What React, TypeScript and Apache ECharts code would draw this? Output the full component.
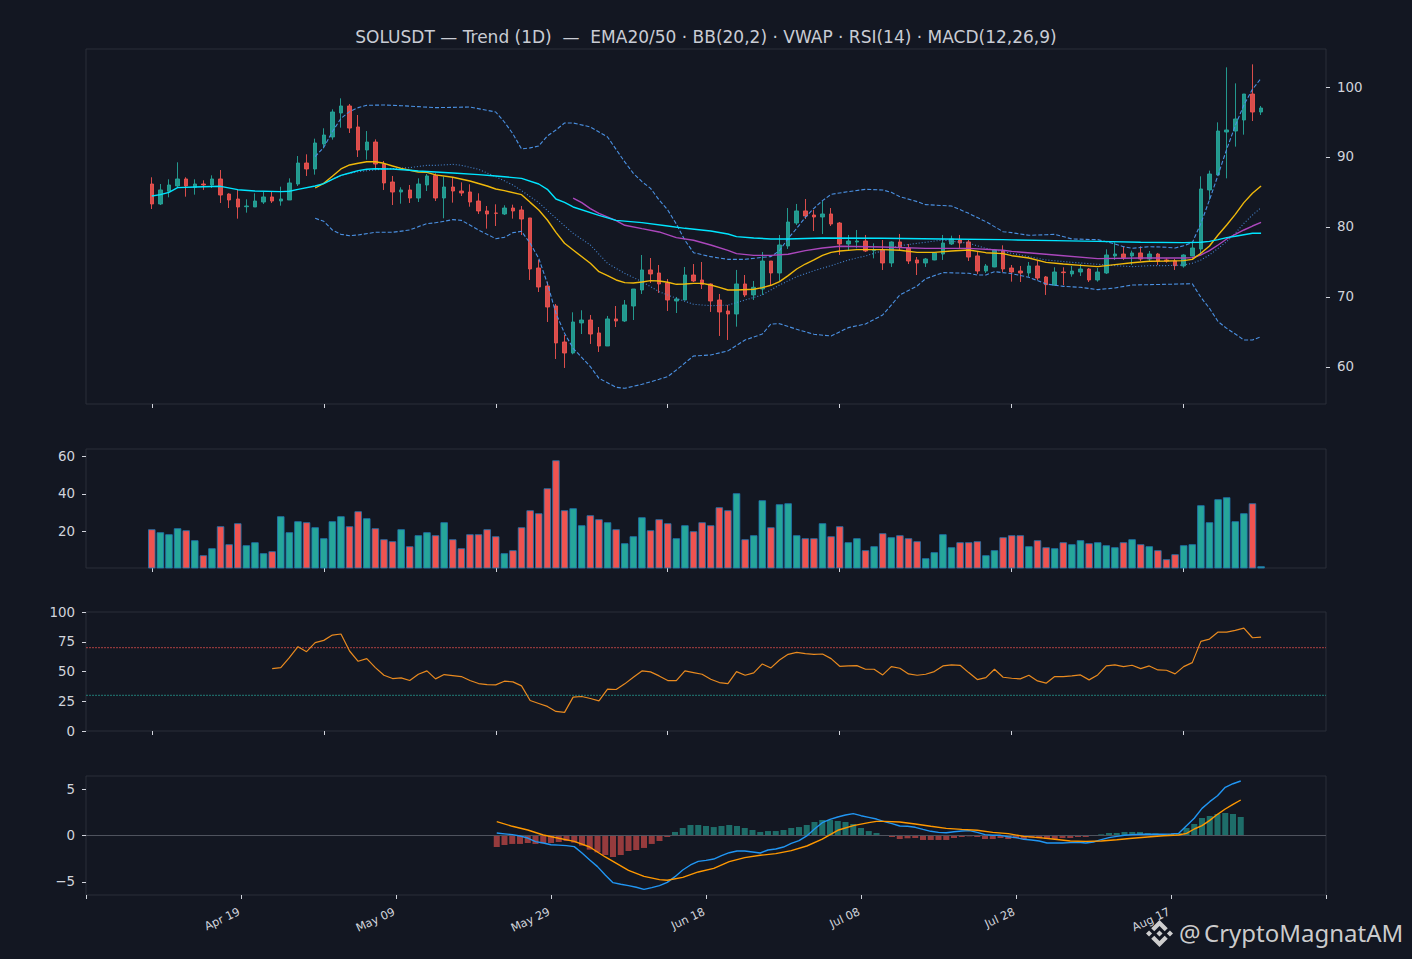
import React, { useEffect, useRef } from "react";
import * as echarts from "echarts";

// [open, close, low, high] per day, index 0 = Apr 19
const ohlc: number[][] = [
  [86.14,83.29,82.57,87.1],[83.29,85.29,83.14,86.14],[85.1,86,84.24,86.81],[85.86,86.86,85.67,89.24],[86.86,85.86,84.33,87.1],
  [85.67,86.14,84.62,86.81],[86.14,86,85.29,86.67],[86,86.86,85.57,87.38],[86.86,84.57,83.43,88.14],[84.71,83.86,82.71,84.81],
  [84,82.86,81.19,85.29],[82.9,83,82.05,83.95],[82.86,83.71,82.86,84.81],[83.57,84.29,83.29,85],[84.29,83.71,83.43,85],
  [83.71,84,83.05,85.76],[83.86,86.29,83.86,86.95],[86.14,89.14,85.86,90.14],[89.14,88.29,87.29,90.38],[88.29,92,87.48,92.62],
  [91.86,93.14,91.24,94.1],[92.86,96.43,92.48,96.81],[96.29,97.29,94.19,98.38],[97.29,94.14,93.43,97.57],[94.29,91,90,96],
  [91,92.14,89.62,93.71],[92.14,89,88.38,92.52],[89,86.29,85.29,89.43],[86.43,85,83.14,87.29],[85,85.29,83.33,85.67],
  [85.29,84.14,83.43,86],[84.14,86.14,83.57,86.95],[86,87.29,85.14,87.57],[87.35,84.14,83.71,87.67],[84.14,85.71,81.24,87.19],
  [85.71,85.14,83.48,87.1],[85.14,84.86,84.43,86.38],[85,83.57,82.9,86.1],[83.71,82.29,81.86,84.81],[82.29,81.86,79.76,83],
  [82,81.95,80.14,83.24],[81.86,82.71,81.71,83.1],[82.71,82.29,81.19,83.19],[82.43,81.14,78.86,83],[81.29,74,72.43,81.29],
  [74.14,71.43,70.71,75.29],[71.57,68.57,66.43,72.19],[68.71,63.43,61.14,69],[63.57,62,59.86,64.57],[62,66.43,61.81,67.81],
  [66.29,66.71,64.71,68.1],[66.71,64.71,63.29,67.43],[64.86,63,62.14,65.71],[63,66.86,63,67.29],[66.86,66.57,65.71,68.71],
  [66.57,68.86,66.43,69.57],[68.71,71.14,66.71,71.14],[71,73.86,70.43,76],[73.86,73.29,72,75.57],[73.43,71.86,70.57,74.57],
  [72,69.57,68,72.57],[69.43,69.71,67.71,70],[69.57,73.14,69.57,74.29],[73.14,72.29,72.14,74.71],[72.43,71.81,71.14,75],
  [71.86,69.43,67.86,71.95],[69.57,67.86,64.43,70.43],[68,67.57,63.86,68.86],[67.57,71.86,65.76,73.86],[71.86,70.29,70,73.14],
  [70.29,71.38,69.57,72.29],[71.14,75.14,70.29,76.43],[75.14,73.43,71.71,75.14],[73.43,77.43,72.29,78.86],[77.29,80.71,76.86,82.71],
  [80.57,82.29,80.29,83.29],[82.29,81.57,81.14,84],[81.71,81.43,79.43,82.43],[81.43,81.86,79,83.71],[81.86,80.43,80.14,82.71],
  [80.57,77.57,76,80.71],[77.57,78,76.57,78.86],[77.86,78,76.95,79.57],[78,76.57,76.43,78.86],[76.62,76.76,75.52,77.67],
  [76.71,74.86,73.86,78.14],[74.86,77.86,74.29,77.95],[77.86,77.14,76.71,79],[77,75.14,74.71,77.57],[75.29,74.86,73.14,75.71],
  [74.86,75.43,74.29,75.57],[75.29,76.29,75.25,76.29],[76.14,77.71,75.29,78.86],[77.57,78.29,77.43,78.76],[78.14,77.71,76.86,78.86],
  [77.86,75.71,75.14,78.14],[75.86,73.71,73.29,76.43],[73.71,74.43,73.43,74.71],[74.29,76.71,74.25,76.86],[76.52,74,73.57,77.38],
  [74.14,73.57,72.19,74.57],[73.71,73.43,72.14,74.43],[73.43,74.43,72.9,75],[74.43,72.71,72.43,75.14],[72.86,71.76,70.29,73],
  [71.67,73.57,71.62,74.24],[73.57,73.48,71.71,74.24],[73.29,73.71,72.9,74.43],[73.57,74,73,74.71],[74,72.43,72.14,74.14],
  [72.43,73.57,72.19,74.14],[73.43,76,73.29,76.81],[75.86,76.14,75.29,77.81],[76.14,75.62,75.29,77.14],[75.86,76.29,74.57,76.62],
  [76.29,75.43,75.14,77.24],[75.43,76.14,75,76.57],[76.14,75.14,74.57,76.29],[75.29,75.14,74.9,75.52],[75.14,74.48,73.86,75.43],
  [74.43,76,74.19,76.1],[75.86,77,75.82,77.86],[76.86,85.43,76.24,87.24],[85.29,87.57,83.86,88.05],[87.43,93.71,87.43,94.95],
  [93.57,93.86,86.95,102.81],[93.71,95.43,91.48,100.52],[95.29,99,93.19,99],[99,96.43,95.14,103.24],[96.43,97,96,97.29],
];

const volumes: number[] = [
  21.16,19.56,18.49,21.69,20.62,15.29,7.29,11.02,22.76,13.16,24.36,12.62,14.22,8.36,9.42,28.09,19.56,25.42,24.89,22.22,
  16.36,25.42,28.09,22.76,30.76,27.02,21.69,15.82,14.76,21.16,12.09,17.96,19.56,17.96,24.89,15.82,11.02,18.49,18.49,21.16,
  17.42,8.36,9.96,22.22,31.29,29.69,43.02,57.96,31.29,32.36,23.29,28.62,26.49,24.89,21.16,13.69,17.42,27.56,20.62,26.49,
  24.36,16.36,23.29,20.09,24.89,23.29,32.89,31.29,40.36,15.82,17.96,36.62,22.22,34.49,35.02,17.96,16.36,16.36,24.36,17.42,
  22.76,14.22,16.36,9.96,12.09,19.02,16.89,17.96,16.36,14.76,5.69,8.89,18.49,11.56,14.22,14.22,14.76,7.29,9.96,16.89,
  17.96,17.96,12.09,15.29,11.56,11.02,14.22,13.16,15.29,13.69,14.22,12.62,11.56,14.22,15.82,13.16,12.09,9.96,5.16,7.82,
  12.62,13.16,33.96,24.89,37.16,38.22,25.42,29.69,35.02,1.42,
];

const vwap: number[][] = [
  [0,84.43],[1,84.62],[2,84.95],[3,85.62],[5,85.71],[8,85.81],[10,85.33],[12,85.14],[15,85.05],[16,85.1],[17,85.38],[19,85.86],[20,86.19],
  [21,86.81],[22,87.38],[23,87.71],[24,88.05],[25,88.24],[26,88.33],[28,88.29],[30,88.1],[31,88],[33,87.86],[35,87.71],[38,87.48],[40,87.29],
  [43,86.95],[45,86.14],[46,85.38],[47,84],[48,83.52],[49,82.86],[52,81.67],[54,80.95],[57,80.62],[60,80.14],[62,79.81],[65,79.43],[67,79],
  [68,78.62],[70,78.43],[72,78.29],[74,78.29],[78,78.43],[85,78.4],[92,78.29],[99,78.19],[100,78.16],[105,78.05],[110,77.95],[115,77.81],
  [120,77.76],[122,77.81],[123,77.95],[124,78.19],[125,78.48],[126,78.67],[127,78.9],[128,79.1],[129,79.1],
];

const ema20: number[][] = [
  [19,85.57],[20,86.24],[21,87.24],[22,88.29],[23,88.86],[24,89.1],[25,89.33],[26,89.33],[27,89.1],[28,88.71],[29,88.38],[30,88.1],[31,87.86],
  [32,87.81],[33,87.45],[35,87.1],[37,86.57],[39,85.86],[40,85.43],[41,85.19],[43,84.62],[44,83.52],[45,82.43],[46,81],[47,79.24],[48,77.67],
  [49,76.71],[51,74.81],[52,73.62],[53,73.05],[54,72.43],[55,72.05],[56,72],[57,72.14],[58,72.33],[59,72.29],[60,72.1],[61,71.81],[62,71.86],
  [63,71.95],[64,71.95],[65,71.71],[66,71.38],[67,71],[68,71],[70,71.1],[71,71.33],[72,71.67],[73,72.19],[74,73.05],[75,74],[76,74.71],[77,75.29],
  [78,75.95],[79,76.38],[80,76.57],[82,76.76],[85,76.76],[87,76.67],[89,76.38],[91,76.38],[93,76.57],[95,76.71],[97,76.33],[99,76.19],[100,75.9],
  [102,75.57],[104,74.95],[106,74.71],[108,74.52],[110,74.33],[112,74.62],[114,74.9],[116,75.1],[118,75.14],[120,75.19],[121,75.38],[122,76.24],
  [123,77.29],[124,78.86],[125,80.29],[126,81.81],[127,83.48],[128,84.81],[129,85.86],
];

const ema50: number[][] = [
  [49,84.14],[50,83.48],[51,82.62],[52,81.95],[54,80.9],[55,80.24],[57,79.76],[59,79.29],[61,78.48],[63,78.1],[65,77.43],[67,76.65],[68,76.19],
  [70,75.95],[72,75.95],[74,76.1],[76,76.62],[78,77],[80,77.24],[85,77.14],[90,76.95],[95,76.95],[99,76.67],[100,76.52],[105,76],[110,75.48],
  [115,75.57],[120,75.57],[121,75.62],[122,76],[123,76.62],[124,77.43],[125,78.29],[126,78.95],[127,79.57],[128,80.14],[129,80.67],
];

const bbUpper: number[][] = [
  [19,90.05],[20,91.38],[21,93.62],[22,95.52],[23,96.48],[24,97.05],[25,97.38],[27,97.43],[29,97.33],[31,97.19],[33,97.05],[37,97.14],[40,96.43],
  [41,95],[42,93.3],[43,91.14],[44,91.3],[45,91.57],[46,93],[47,93.86],[48,94.86],[49,94.86],[51,94.3],[53,92.86],[55,89.3],[56,87.67],[57,86.48],
  [58,85.52],[59,83.86],[60,82.43],[61,80.43],[62,78.1],[63,76.33],[65,75.76],[67,75.38],[69,75.38],[71,75.67],[72,75.76],[73,76.62],[74,78.38],
  [75,79.81],[76,81.38],[77,82.67],[78,83.76],[79,84.67],[81,85.05],[83,85.38],[85,85.29],[86,84.95],[87,84.33],[89,83.62],[90,83.19],[93,83],
  [95,81.95],[97,80.76],[99,79.33],[100,79.19],[102,78.81],[104,78.9],[105,78.95],[107,78.29],[110,78.19],[111,77.9],[112,77.57],[113,77.19],
  [114,76.95],[116,77.19],[118,77.1],[119,77],[120,77.33],[121,77.76],[122,80.52],[123,83.86],[124,87.43],[125,91.1],[126,94.48],[127,97.43],
  [128,99.67],[129,101.24],
];

const bbLower: number[][] = [
  [19,81.24],[20,80.81],[21,79.57],[22,78.95],[23,78.76],[24,78.86],[26,79.24],[28,79.24],[30,79.57],[31,80.05],[32,80.48],[33,80.6],[35,81.05],
  [36,80.95],[38,79.57],[40,78.33],[41,78.52],[42,79.19],[43,79.38],[44,77.67],[45,75.52],[46,71.95],[47,67.67],[48,64.81],[49,62.67],[51,60.05],
  [52,58.38],[54,57.1],[55,56.95],[57,57.52],[59,58.24],[60,58.62],[61,59.57],[63,61.57],[65,61.71],[67,62.3],[69,63.86],[71,64.71],[72,66.14],
  [73,66.19],[75,65.38],[77,64.67],[79,64.43],[81,65.62],[83,66.14],[85,67.43],[87,70.29],[89,71.57],[90,72.62],[92,73.48],[95,73.38],[96,73.14],
  [97,73.14],[98,73.62],[100,73.33],[102,72.81],[104,71.86],[106,71.52],[108,71.38],[110,71.05],[112,71.29],[114,71.71],[118,71.81],[121,71.9],
  [122,69.95],[123,68.38],[124,66.48],[125,65.52],[126,64.71],[127,63.86],[128,63.86],[129,64.33],
];

const bbMid: number[][] = [
  [19,85.67],[21,86.81],[22,87.38],[24,87.9],[27,88.29],[30,88.48],[32,88.81],[33,88.81],[35,88.95],[36,88.81],[38,88.24],[40,87.19],[42,86],[43,85.19],
  [45,83.48],[47,81.24],[49,79.1],[51,77.43],[53,74.81],[55,73.38],[57,72.19],[59,70.76],[61,69.81],[63,68.95],[65,68.76],[67,68.83],[69,69.57],
  [71,70.29],[73,71.71],[75,72.9],[77,73.76],[79,74.48],[81,75.29],[83,75.86],[85,76.62],[87,77.33],[89,77.67],[92,78.14],[95,77.67],[97,76.95],
  [99,76.48],[100,76.24],[102,75.76],[104,75.29],[107,74.95],[110,74.67],[112,74.48],[114,74.33],[116,74.48],[118,74.48],[120,74.57],[121,74.81],
  [122,75.29],[123,76],[124,76.95],[125,77.9],[126,79.1],[127,80.52],[128,81.71],[129,82.76],
];

const rsiStart = 14;
const rsi: number[] = [
  52.44,53.28,61.65,70.85,66.67,74.2,76.15,80.61,81.5,67.22,58.58,60.81,53.28,46.86,44.07,44.63,42.4,47.7,50.49,43.79,
  47.42,46.58,45.75,42.4,39.89,39.05,38.77,41.84,41.28,37.94,25.66,23.15,20.64,16.46,15.62,28.45,29.01,27.34,25.38,35.15,
  34.87,39.61,45.19,50.49,49.65,46.3,42.4,42.4,50.49,49.09,47.7,43.51,40.73,39.89,49.93,46.86,48.81,56.35,53,59.69,
  64.44,66.11,64.99,64.44,64.71,60.81,54.39,54.67,54.95,51.88,51.88,47.14,54.11,52.72,47.98,46.86,47.7,49.93,54.67,55.51,
  55.23,49.09,43.24,44.91,51.88,45.19,44.35,43.79,46.86,42.12,40.17,45.75,45.75,46.3,47.14,42.96,47.14,54.67,55.51,54.11,
  55.23,52.44,54.67,51.32,51.05,47.98,54.11,57.46,75.31,77.27,83.12,83.12,84.52,86.47,78.38,78.94,
];
const rsiHigh = 70;
const rsiLow = 30;

const macdStart = 33;
const macdHist: number[] = [
  -1.24,-1.02,-.91,-.91,-.81,-.91,-.84,-.81,-.7,-.59,-.77,-1.09,-1.52,-1.81,-2.1,-2.31,-2.1,-1.67,-1.56,-1.34,-.91,-.59,-.16,
  .38,.81,1.13,1.13,1.02,.91,1.02,1.13,1.02,.81,.59,.38,.48,.48,.59,.81,.91,1.13,1.45,1.67,1.67,1.56,1.45,1.24,.81,.48,.27,
  .02,-.16,-.38,-.3,-.27,-.48,-.48,-.48,-.48,-.27,-.16,-.09,-.16,-.38,-.38,-.27,-.38,-.3,-.38,-.23,-.3,-.38,-.38,-.27,-.27,-.16,-.16,
  -.02,.13,.27,.27,.38,.38,.38,.27,.23,.13,.16,.27,.81,1.24,1.88,2.1,2.31,2.42,2.31,1.99,
];
const macdLine: number[] = [
  .27,.18,.09,-.05,-.27,-.66,-.81,-.99,-1.04,-1.09,-1.2,-1.88,-2.63,-3.35,-4.25,-5.07,-5.25,-5.39,-5.57,-5.79,-5.61,-5.39,-5.04,
  -4.43,-3.71,-3.17,-2.78,-2.67,-2.53,-2.17,-1.85,-1.67,-1.67,-1.77,-1.88,-1.56,-1.45,-1.24,-.84,-.56,-.05,.7,1.38,1.74,1.99,2.2,2.35,2.13,1.95,1.77,
  1.49,1.27,1.02,.99,.88,.66,.45,.34,.3,.41,.48,.52,.34,.09,.02,.02,-.13,-.23,-.41,-.48,-.59,-.81,-.81,-.81,-.77,-.73,-.81,
  -.7,-.45,-.23,-.09,.02,.09,.13,.13,.13,.13,.16,.23,1.06,1.85,2.92,3.64,4.28,5.18,5.57,5.86,
];
const macdSignal: number[][] = [
  [33,1.49],[35,.99],[37,.59],[39,.05],[41,-.3],[43,-.63],[45,-1.24],[47,-2.31],[48,-2.78],[50,-3.75],[52,-4.39],[54,-4.75],[55,-4.82],[57,-4.5],
  [59,-3.92],[61,-3.53],[63,-2.81],[65,-2.38],[67,-2.13],[69,-1.95],[71,-1.63],[73,-1.13],[75,-.38],[77,.56],[79,1.06],[81,1.38],[82,1.52],[83,1.52],
  [85,1.45],[87,1.24],[89,.99],[91,.77],[93,.66],[95,.56],[97,.34],[99,.2],[101,-.09],[103,-.23],[105,-.41],[107,-.59],[109,-.63],[111,-.59],[113,-.45],
  [115,-.3],[117,-.16],[119,-.02],[121,.05],[122,.23],[123,.7],[124,1.06],[125,1.63],[126,2.28],[127,2.85],[128,3.35],[129,3.82],
];

const topTicks = [0, 20, 40, 60, 80, 100, 120];
const dateLabels: Record<number, string> = { 0: "Apr 19", 20: "May 09", 40: "May 29", 60: "Jun 18", 80: "Jul 08", 100: "Jul 28", 120: "Aug 17" };
const priceTicks = [60, 70, 80, 90, 100];
const volumeTicks = [20, 40, 60];
const rsiTicks = [0, 25, 50, 75, 100];
const macdTicks = [-5, 0, 5];
const titleText = "SOLUSDT \u2014 Trend (1D)  \u2014  EMA20/50 \u00b7 BB(20,2) \u00b7 VWAP \u00b7 RSI(14) \u00b7 MACD(12,26,9)";
const handleAt = "@";
const handleName = "CryptoMagnatAM";

const BG = "#131722";
const SPINE = "#2a2e39";
const TXT = "#d1d4dc";
const UP = "#26a69a";
const DOWN = "#ef5350";
const FONT = "'DejaVu Sans'";
const X_MIN = -7.65;
const X_MAX = 136.55;

const LOGO = "M16.624 13.9202l2.7175 2.7154-7.353 7.353-7.353-7.352 2.7175-2.7164 4.6355 4.6595 4.6356-4.6595zm4.6366-4.6366L24 12l-2.7154 2.7164L18.5682 12l2.6924-2.7164zm-9.272.001l2.7163 2.6914-2.7164 2.7174v-.001L9.2721 12l2.7164-2.7154zm-9.2722-.001L5.4088 12l-2.6914 2.6924L0 12l2.7164-2.7164zM11.9885.0115l7.353 7.329-2.7174 2.7154-4.6356-4.6356-4.6355 4.6595-2.7174-2.7154 7.353-7.353z";
echarts.graphic.registerShape("binanceLogo", (echarts.graphic as any).extendPath(LOGO, {}));

function App() {
  const ref = useRef<HTMLDivElement>(null);
  useEffect(() => {
    document.body.style.margin = "0";
    document.body.style.background = BG;
    const chart = echarts.init(ref.current!, undefined, { renderer: "svg" });
    const grid = (top: number, height: number) => ({
      left: 86, width: 1240, top, height, show: true, borderColor: SPINE, borderWidth: 1, backgroundColor: BG, containLabel: false,
    });
    const tick = { show: true, length: 4, lineStyle: { color: TXT, width: 1 } };
    const noLine = { show: false, onZero: false };
    const topX = (gridIndex: number) => ({
      type: "value", gridIndex, min: X_MIN, max: X_MAX, position: "bottom",
      axisLine: noLine, splitLine: { show: false },
      axisTick: { ...tick, customValues: topTicks },
      axisLabel: { show: false },
    });
    const yAxis = (gridIndex: number, min: number, max: number, ticks: number[], position: string) => ({
      type: "value", gridIndex, min, max, position,
      axisLine: noLine, splitLine: { show: false },
      axisTick: { ...tick, customValues: ticks },
      axisLabel: {
        color: TXT, fontSize: 13.4, fontFamily: FONT, margin: 11, padding: [2, 0, 0, 0], customValues: ticks,
        showMinLabel: true, showMaxLabel: true,
        formatter: (v: number) => String(v).replace("-", "\u2212"),
      },
    });
    const line = (data: number[][], color: string, width: number, x: number, type: any = "solid", opacity = 1, name = "", z = 3) => ({
      type: "line", name, xAxisIndex: x, yAxisIndex: x, data, showSymbol: false, symbol: "none", silent: true,
      lineStyle: { color, width, type, opacity, cap: "butt" }, z,
    });
    const hLine = (v: number) => [[X_MIN, v], [X_MAX, v]];
    const option: any = {
      animation: false,
      backgroundColor: BG,
      title: {
        text: titleText, left: 701, top: 23.5, textAlign: "center",
        textStyle: { color: "#c9ccd4", fontSize: 17, fontWeight: "normal", fontFamily: FONT },
      },
      grid: [grid(49, 355), grid(449, 119), grid(612, 119), grid(776, 119)],
      xAxis: [
        topX(0), topX(1), topX(2),
        {
          type: "value", gridIndex: 3, min: -20, max: 140, interval: 20, position: "bottom",
          axisLine: noLine, splitLine: { show: false }, axisTick: tick,
          axisLabel: {
            color: TXT, fontSize: 11.4, fontFamily: FONT, rotate: 25, margin: 15, padding: [0, 2, 0, 0], showMinLabel: true, showMaxLabel: true,
            formatter: (v: number) => dateLabels[v] ?? "",
          },
        },
      ],
      yAxis: [
        yAxis(0, 54.71, 105.43, priceTicks, "right"),
        yAxis(1, 0.5, 64, volumeTicks, "left"),
        yAxis(2, 0, 100, rsiTicks, "left"),
        yAxis(3, -6.4, 6.4, macdTicks, "left"),
      ],
      series: [
        {
          type: "candlestick", name: "SOLUSDT", xAxisIndex: 0, yAxisIndex: 0, barWidth: 4, z: 2,
          encode: { x: 0, y: [1, 2, 3, 4] },
          data: ohlc.map((r, i) => [i, r[0], r[1], r[2], r[3]]),
          itemStyle: { color: UP, color0: DOWN, borderColor: UP, borderColor0: DOWN, borderWidth: 1, opacity: 0.9 },
        },
        line(bbUpper, "#4a90e2", 1.1, 0, [4, 2], 1, "BB upper"),
        line(bbLower, "#4a90e2", 1.1, 0, [4, 2], 1, "BB lower"),
        line(bbMid, "#4a90e2", 1.1, 0, [1, 2], 0.9, "BB mid"),
        line(ema50, "#ab47bc", 1.4, 0, "solid", 1, "EMA50"),
        line(ema20, "#f0b90b", 1.4, 0, "solid", 1, "EMA20"),
        line(vwap, "#00e5ff", 1.4, 0, "solid", 1, "VWAP"),
        {
          type: "bar", name: "Volume", xAxisIndex: 1, yAxisIndex: 1, barWidth: 7.4, clip: true,
          data: volumes.map((v, i) => ({
            value: [i, v],
            itemStyle: { color: ohlc[i][1] >= ohlc[i][0] ? UP : DOWN, borderColor: "#1f77b4", borderWidth: 0.8 },
          })),
        },
        line(hLine(rsiHigh), DOWN, 1, 2, [2, 1], 0.7, "RSI 70", 2),
        line(hLine(rsiLow), UP, 1, 2, [2, 1], 0.7, "RSI 30", 2),
        line(rsi.map((v, i) => [i + rsiStart, v]), "#e98a1f", 1.2, 2, "solid", 1, "RSI"),
        {
          type: "bar", name: "MACD hist", xAxisIndex: 3, yAxisIndex: 3, barWidth: 6, z: 1,
          data: macdHist.map((v, i) => ({
            value: [i + macdStart, v],
            itemStyle: { color: v >= 0 ? UP : DOWN, opacity: 0.6 },
          })),
        },
        line([[-20, 0], [140, 0]], "#4f535e", 1, 3, "solid", 1, "zero", 2),
        line(macdLine.map((v, i) => [i + macdStart, v]), "#2196f3", 1.4, 3, "solid", 1, "MACD"),
        line(macdSignal, "#ff9800", 1.4, 3, "solid", 1, "Signal"),
      ],
      graphic: [
        {
          type: "binanceLogo", x: 1146, y: 920, scaleX: 27 / 24, scaleY: 27 / 24, z: 100,
          style: { fill: "#d8d8d8", opacity: 0.95 },
        },
        {
          type: "text", x: 1179, y: 932, z: 100,
          style: { text: handleAt, fill: "#d8d8d8", opacity: 0.95, fontFamily: "'Noto Sans'", fontSize: 24, verticalAlign: "middle" },
        },
        {
          type: "text", x: 1204, y: 932, z: 100,
          style: { text: handleName, fill: "#d8d8d8", opacity: 0.95, fontFamily: "'Noto Sans'", fontSize: 24, verticalAlign: "middle" },
        },
      ],
    };
    chart.setOption(option);
    return () => chart.dispose();
  }, []);
  return <div ref={ref} style={{ position: "absolute", left: 0, top: 0, width: 1412, height: 959 }} />;
}

export default App;
